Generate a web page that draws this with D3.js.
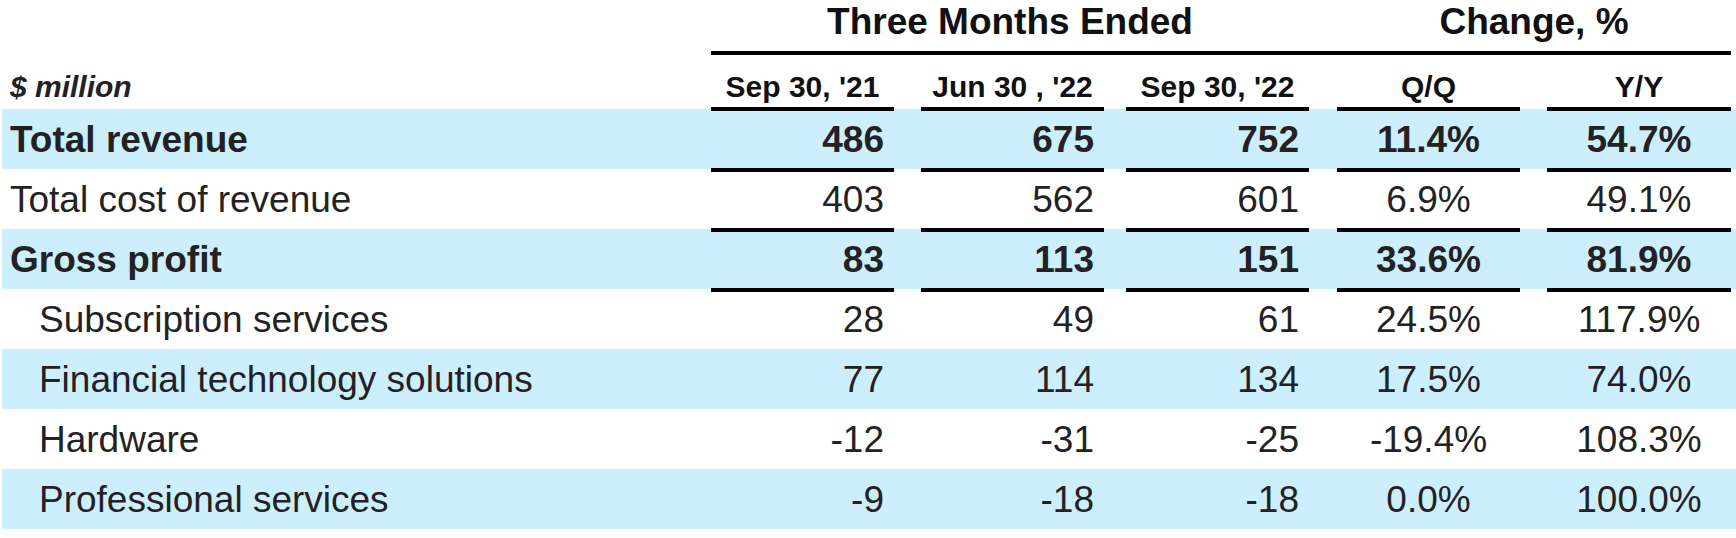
<!DOCTYPE html>
<html><head><meta charset="utf-8">
<script src="https://cdn.jsdelivr.net/npm/d3@7"></script>
<style>body{margin:0;background:#fff}</style></head>
<body><svg id="c" width="1736" height="538"></svg>
<script>
const rowLabels = ["Total revenue","Total cost of revenue","Gross profit","Subscription services","Financial technology solutions","Hardware","Professional services"];
const colLabels = ["Sep 30, '21","Jun 30 , '22","Sep 30, '22","Q/Q","Y/Y"];
const sep21 = ["486","403","83","28","77","-12","-9"];
const jun22 = ["675","562","113","49","114","-31","-18"];
const sep22 = ["752","601","151","61","134","-25","-18"];
const qq = ["11.4%","6.9%","33.6%","24.5%","17.5%","-19.4%","0.0%"];
const yy = ["54.7%","49.1%","81.9%","117.9%","74.0%","108.3%","100.0%"];
const boldRows = [0,2];
const indentRows = [3,4,5,6];
const bandRows = [0,2,4,6];
const lineRows = [0,1,2];

const svg = d3.select("#c");
const font = "'Liberation Sans', Arial, Helvetica, sans-serif";
const ink = "#222";
const cols = [sep21,jun22,sep22,qq,yy];
const colX = [[711,894],[921,1104],[1126,1309],[1337,1520],[1547,1731]];
const y = d3.scaleBand().domain(d3.range(rowLabels.length)).range([109,529]);

svg.selectAll("rect.band").data(bandRows).join("rect")
  .attr("x",2).attr("width",1734).attr("y",d=>y(d)).attr("height",y.bandwidth()).attr("fill","#cdeefc");

svg.append("text").attr("x",(711+1309)/2).attr("y",34).attr("text-anchor","middle")
  .attr("font-family",font).attr("font-weight","bold").attr("font-size",37).attr("fill","#111").text("Three Months Ended");
svg.append("text").attr("x",(1337+1731)/2).attr("y",34).attr("text-anchor","middle")
  .attr("font-family",font).attr("font-weight","bold").attr("font-size",37).attr("fill","#111").text("Change, %");
svg.append("rect").attr("x",711).attr("width",1020).attr("y",51).attr("height",4).attr("fill","#000");

svg.append("text").attr("x",10).attr("y",97).attr("font-family",font).attr("font-weight","bold")
  .attr("font-style","italic").attr("font-size",30).attr("fill",ink).text("$ million");

colLabels.forEach((c,i)=>{
  const [a,b]=colX[i];
  svg.append("text").attr("x",(a+b)/2).attr("y",97).attr("text-anchor","middle")
    .attr("font-family",font).attr("font-weight","bold").attr("font-size",30).attr("fill","#111").text(c);
  svg.append("rect").attr("x",a).attr("width",b-a).attr("y",107).attr("height",4).attr("fill","#000");
  lineRows.forEach(r=>{
    svg.append("rect").attr("x",a).attr("width",b-a).attr("y",y(r)+y.bandwidth()-1).attr("height",4).attr("fill","#000");
  });
});

rowLabels.forEach((lab,r)=>{
  const bold = boldRows.includes(r);
  const base = y(r)+y.bandwidth()/2+13;
  svg.append("text").attr("x",indentRows.includes(r)?39:10).attr("y",base)
    .attr("font-family",font).attr("font-weight",bold?"bold":"normal").attr("font-size",37).attr("fill",ink).text(lab);
  cols.forEach((col,i)=>{
    const [a,b]=colX[i];
    const t = svg.append("text").attr("y",base).attr("font-family",font)
      .attr("font-weight",bold?"bold":"normal").attr("font-size",37).attr("fill",ink).text(col[r]);
    if(i<3) t.attr("x",b-10).attr("text-anchor","end");
    else t.attr("x",(a+b)/2).attr("text-anchor","middle");
  });
});
</script></body></html>
